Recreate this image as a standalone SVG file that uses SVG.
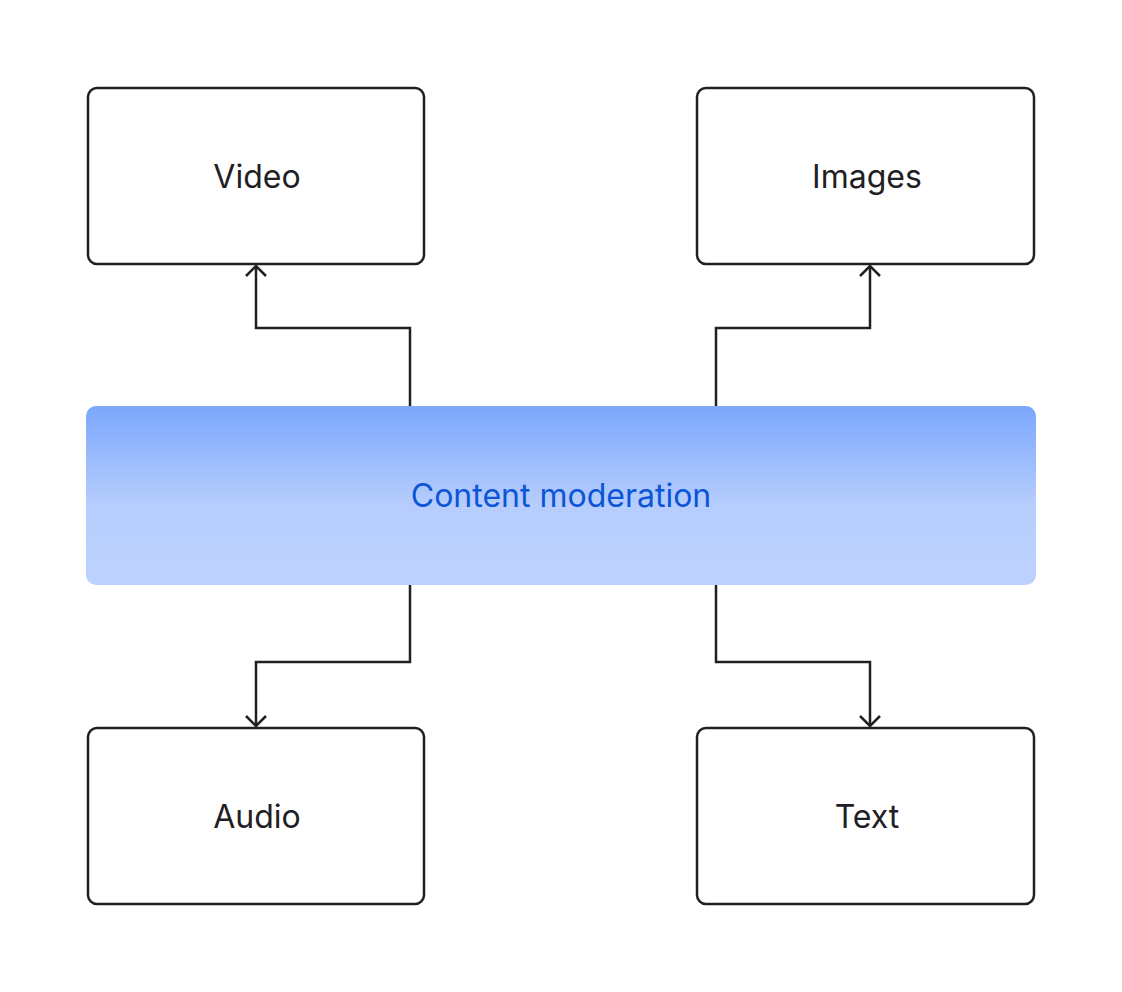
<svg xmlns="http://www.w3.org/2000/svg" width="1122" height="992" viewBox="0 0 1122 992">
<style>
.box{fill:#fff;stroke:#1f2023;stroke-width:2.5}
.lbl{font-family:Inter,"Liberation Sans",sans-serif;font-size:32px;fill:#1f2023;text-anchor:middle;dominant-baseline:central}
.ln{fill:none;stroke:#1f2023;stroke-width:2.5}
.ah{fill:none;stroke:#1f2023;stroke-width:2.5}
</style>
<defs>
<linearGradient id="g" x1="0" y1="0" x2="0" y2="1">
<stop offset="0" stop-color="#7BA7FC"/><stop offset="0.55" stop-color="#B6CDFD"/><stop offset="1" stop-color="#BDD2FE"/>
</linearGradient>
</defs>
<rect width="1122" height="992" fill="#fff"/>
<g id="connectors">
<path class="ln" d="M410 406V328H256V266"/><path class="ah" d="M246 276L256 266L266 276"/>
<path class="ln" d="M716 406V328H870V266"/><path class="ah" d="M860 276L870 266L880 276"/>
<path class="ln" d="M410 585V662H256V726"/><path class="ah" d="M246 716L256 726L266 716"/>
<path class="ln" d="M716 585V662H870V726"/><path class="ah" d="M860 716L870 726L880 716"/>
</g>
<g id="center"><rect x="86" y="406" width="950" height="179" rx="10" fill="url(#g)"/>
<text class="lbl" x="561" y="495" style="fill:#0B55D6">Content moderation</text></g>
<g id="video"><rect class="box" x="88" y="88" width="336" height="176" rx="9"/><text class="lbl" x="257" y="176">Video</text></g>
<g id="images"><rect class="box" x="697" y="88" width="337" height="176" rx="9"/><text class="lbl" x="867" y="176">Images</text></g>
<g id="audio"><rect class="box" x="88" y="728" width="336" height="176" rx="9"/><text class="lbl" x="257" y="816">Audio</text></g>
<g id="text"><rect class="box" x="697" y="728" width="337" height="176" rx="9"/><text class="lbl" x="867" y="816">Text</text></g>
</svg>
